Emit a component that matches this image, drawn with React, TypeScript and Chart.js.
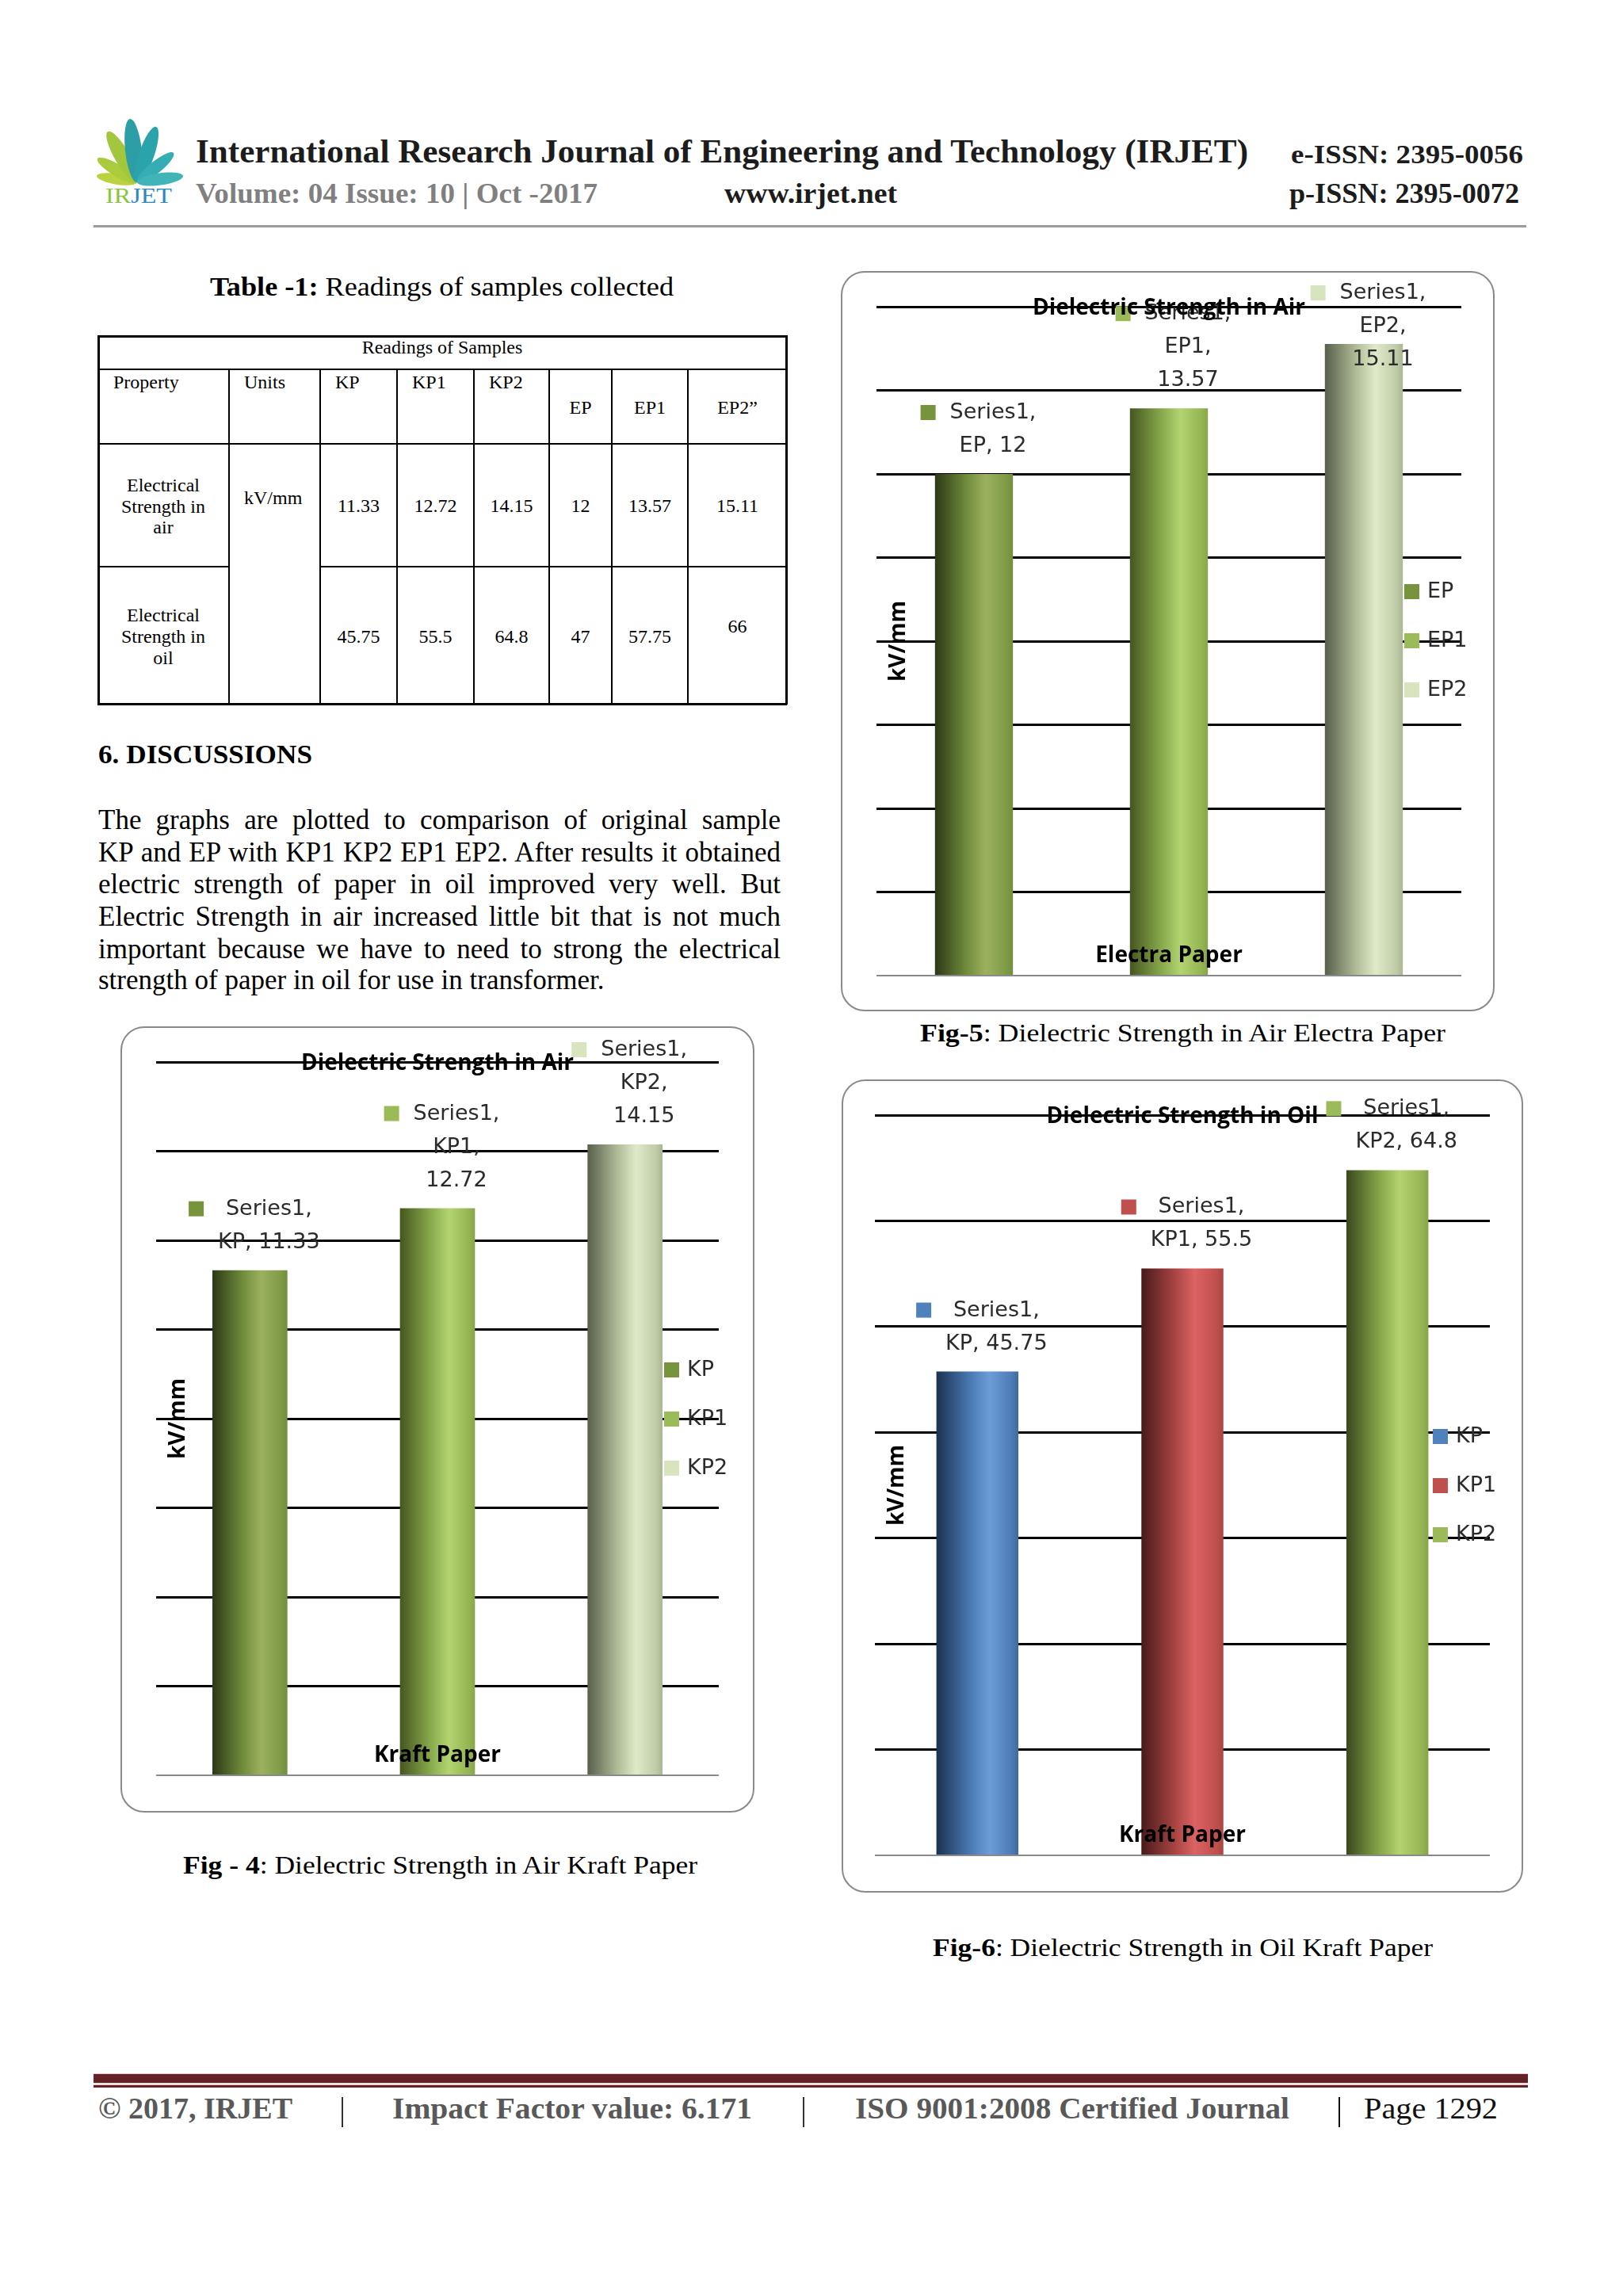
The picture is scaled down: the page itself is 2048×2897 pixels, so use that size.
import React, { useEffect, useLayoutEffect, useRef } from "react";
import { Chart, registerables } from "chart.js";
Chart.register(...registerables);

// ---------------- DATA ----------------
const seriesName = "Series1";
const tableColumns = ["KP", "KP1", "KP2", "EP", "EP1", "EP2\u201D"];
const airReadings = ["11.33", "12.72", "14.15", "12", "13.57", "15.11"];
const oilReadings = ["45.75", "55.5", "64.8", "47", "57.75", "66"];

const fig4Categories = ["KP", "KP1", "KP2"];
const fig4Values = [11.33, 12.72, 14.15];
const fig5Categories = ["EP", "EP1", "EP2"];
const fig5Values = [12, 13.57, 15.11];
const fig6Categories = ["KP", "KP1", "KP2"];
const fig6Values = [45.75, 55.5, 64.8];
const airAxis = [0, 16, 2]; // min, max, step
const oilAxis = [0, 70, 10];

const paragraphLines = [
  "The graphs are plotted to comparison of original sample",
  "KP and EP with KP1 KP2 EP1 EP2. After results it obtained",
  "electric strength of paper in oil improved very well. But",
  "Electric Strength in air increased little bit that is not much",
  "important because we have to need to strong the electrical",
  "strength of paper in oil for use in transformer.",
];

// ---------------- STYLES ----------------
const SERIF = '"Liberation Serif", "DejaVu Serif", serif';
const PAL = {
  olive: ["#2d3817", "#6f8b3b", "#9cb160", "#7f9a46", "#728d3e"],
  green: ["#46561f", "#87a84b", "#b3d470", "#95b453", "#88a648"],
  pale: ["#585f4c", "#b0bc98", "#dfeac8", "#bfcba7", "#aab692"],
  blue: ["#1c3150", "#4877b0", "#6d9dd8", "#4c7bb5", "#41699c"],
  red: ["#471a1a", "#a64342", "#dc6363", "#bf4f4c", "#a84644"],
  green2: ["#3a481d", "#86a549", "#b4d26f", "#97b454", "#86a34a"],
};
const STOPS = [0, 0.4, 0.65, 0.92, 1];

type Cfg = {
  categories: string[];
  values: number[];
  axis: number[];
  title: string;
  xTitle: string;
  yTitle: string;
  keyColors: string[];
  gradients: string[][];
  split: boolean[];
  left: number;
  top: number;
  width: number;
  height: number;
  pad: { left: number; right: number; top: number; bottom: number };
};

function BarChart({ cfg }: { cfg: Cfg }) {
  const ref = useRef<HTMLCanvasElement>(null);
  useEffect(() => {
    const canvas = ref.current!;
    const barPct = 0.4;
    const overlay = {
      id: "overlay",
      afterDatasetsDraw(chart: any) {
        const ctx = chart.ctx as CanvasRenderingContext2D;
        const a = chart.chartArea;
        const meta = chart.getDatasetMeta(0);
        ctx.save();
        // data labels
        ctx.font = '27px "DejaVu Sans"';
        ctx.textAlign = "center";
        ctx.textBaseline = "middle";
        const lh = 42;
        cfg.categories.forEach((cat, i) => {
          const el = meta.data[i];
          const v = String(cfg.values[i]);
          const lines = cfg.split[i]
            ? [seriesName + ",", cat + ",", v]
            : [seriesName + ",", cat + ", " + v];
          const last = el.y - 35;
          let first = last - (lines.length - 1) * lh;
          if (first < 28) first = 28;
          const cx = el.x + 24;
          const maxW = Math.max(...lines.map((l) => ctx.measureText(l).width));
          const blockLeft = cx - maxW / 2;
          ctx.fillStyle = cfg.keyColors[i];
          ctx.fillRect(blockLeft - 18 - 19, first - 10, 19, 19);
          ctx.fillStyle = "#2b2b2b";
          lines.forEach((l, k) => ctx.fillText(l, cx, first + k * lh));
        });
        // legend
        cfg.categories.forEach((cat, i) => {
          const y = chart.height / 2 + (i - 1) * 62;
          const x = chart.width - 114;
          ctx.fillStyle = cfg.keyColors[i];
          ctx.fillRect(x, y - 10, 19, 19);
          ctx.fillStyle = "#2b2b2b";
          ctx.textAlign = "left";
          ctx.fillText(cat, x + 29, y);
        });
        // titles
        ctx.fillStyle = "#000";
        ctx.textAlign = "center";
        ctx.font = 'bold 28px "Open Sans"';
        ctx.fillText(cfg.title, (a.left + a.right) / 2, a.top + 2);
        ctx.font = 'bold 28px "Open Sans"';
        ctx.fillText(cfg.xTitle, (a.left + a.right) / 2, a.bottom - 25);
        ctx.translate(a.left + 28, (a.top + a.bottom) / 2);
        ctx.rotate(-Math.PI / 2);
        ctx.fillText(cfg.yTitle, 0, 0);
        ctx.restore();
      },
    };
    const chart = new Chart(canvas, {
      type: "bar",
      data: {
        labels: cfg.categories,
        datasets: [
          {
            label: seriesName,
            data: cfg.values,
            borderWidth: 0,
            barPercentage: barPct,
            categoryPercentage: 1,
            backgroundColor: (c: any) => {
              const ch = c.chart;
              const area = ch.chartArea;
              const pal = cfg.gradients[c.dataIndex] || cfg.gradients[0];
              if (!area || c.dataIndex === undefined) return pal[2];
              const cw = (area.right - area.left) / cfg.categories.length;
              const bw = cw * barPct;
              const cx = ch.scales.x.getPixelForValue(c.dataIndex);
              const g = ch.ctx.createLinearGradient(cx - bw / 2, 0, cx + bw / 2, 0);
              STOPS.forEach((s, k) => g.addColorStop(s, pal[k]));
              return g;
            },
          },
        ],
      },
      options: {
        responsive: false,
        animation: false,
        devicePixelRatio: 1,
        layout: { padding: cfg.pad },
        plugins: {
          legend: { display: false },
          title: { display: false },
          tooltip: { enabled: false },
        },
        scales: {
          x: { display: false },
          y: {
            min: cfg.axis[0],
            max: cfg.axis[1],
            ticks: { display: false, stepSize: cfg.axis[2] },
            border: { display: false },
            grid: {
              drawTicks: false,
              color: (c: any) => (c.tick && c.tick.value === 0 ? "#8a8a8a" : "#000"),
              lineWidth: (c: any) => (c.tick && c.tick.value === 0 ? 2 : 3),
            },
          },
        },
      },
      plugins: [overlay],
    } as any);
    const f = (document as any).fonts;
    if (f && f.ready) {
      f.ready.then(() => {
        try {
          chart.draw();
        } catch (e) {}
      });
    }
    return () => chart.destroy();
  }, []);
  return (
    <div style={{ position: "absolute", left: cfg.left, top: cfg.top, width: cfg.width, height: cfg.height }}>
      <canvas
        ref={ref}
        width={cfg.width}
        height={cfg.height}
        style={{ position: "absolute", left: 0, top: 0, width: cfg.width, height: cfg.height }}
      />
      <div
        style={{
          position: "absolute",
          left: 0,
          top: 0,
          width: cfg.width,
          height: cfg.height,
          border: "2px solid #8a8a8a",
          borderRadius: 30,
          boxSizing: "border-box",
          pointerEvents: "none",
        }}
      />
    </div>
  );
}

// Single-line text fitted to a target width (horizontal scale)
function Fit(props: {
  x: number;
  cy: number;
  w?: number;
  size: number;
  weight?: any;
  color?: string;
  family?: string;
  children: any;
}) {
  const ref = useRef<HTMLDivElement>(null);
  useLayoutEffect(() => {
    const el = ref.current;
    if (!el) return;
    const measure = () => {
      el.style.transform = "none";
      const nat = el.getBoundingClientRect().width;
      if (props.w && nat > 0) el.style.transform = `scaleX(${props.w / nat})`;
    };
    measure();
    const f = (document as any).fonts;
    if (f && f.ready) f.ready.then(measure);
  }, []);
  return (
    <div
      ref={ref}
      style={{
        position: "absolute",
        left: props.x,
        top: props.cy - props.size * 0.6,
        fontSize: props.size,
        lineHeight: `${props.size * 1.2}px`,
        fontWeight: props.weight || "normal",
        color: props.color || "#000",
        fontFamily: props.family || SERIF,
        whiteSpace: "nowrap",
        transformOrigin: "left center",
      }}
    >
      {props.children}
    </div>
  );
}

// Justified paragraph line: word spacing set from measured width
function JLine({ text, cy, x, w, size, justify }: { text: string; cy: number; x: number; w: number; size: number; justify: boolean }) {
  const ref = useRef<HTMLDivElement>(null);
  useLayoutEffect(() => {
    const el = ref.current;
    if (!el) return;
    const measure = () => {
      el.style.wordSpacing = "0px";
      const nat = el.getBoundingClientRect().width;
      const gaps = text.split(" ").length - 1;
      if (justify && gaps > 0) el.style.wordSpacing = `${(w - nat) / gaps}px`;
    };
    measure();
    const f = (document as any).fonts;
    if (f && f.ready) f.ready.then(measure);
  }, []);
  return (
    <div
      ref={ref}
      style={{
        position: "absolute",
        left: x,
        top: cy - size * 0.6,
        fontSize: size,
        lineHeight: `${size * 1.2}px`,
        fontFamily: SERIF,
        color: "#000",
        whiteSpace: "nowrap",
      }}
    >
      {text}
    </div>
  );
}

function CText({ cx, cy, size, children, left }: { cx?: number; cy: number; size: number; children: any; left?: number }) {
  const style: any = {
    position: "absolute",
    top: cy - size * 0.6,
    fontSize: size,
    lineHeight: `${size * 1.2}px`,
    fontFamily: SERIF,
    whiteSpace: "nowrap",
    color: "#000",
  };
  if (left !== undefined) style.left = left;
  else {
    style.left = cx! - 200;
    style.width = 400;
    style.textAlign = "center";
  }
  return <div style={style}>{children}</div>;
}

function Line({ x, y, w, h, c }: { x: number; y: number; w: number; h: number; c?: string }) {
  return <div style={{ position: "absolute", left: x, top: y, width: w, height: h, background: c || "#000" }} />;
}

function Logo() {
  const base = [173, 230];
  const leaves: [number, number, string][] = [
    [122, 222, "#b9d23e"],
    [123, 200, "#a9cb3c"],
    [136, 166, "#a2c63d"],
    [164, 150, "#2e9ea6"],
    [197, 160, "#2aa3aa"],
    [219, 193, "#35adb2"],
    [231, 222, "#41b4b8"],
  ];
  return (
    <svg style={{ position: "absolute", left: 0, top: 0 }} width={300} height={300}>
      {leaves.map(([tx, ty, col], i) => {
        const dx = tx - base[0];
        const dy = ty - base[1];
        const len = Math.sqrt(dx * dx + dy * dy);
        const ang = (Math.atan2(dy, dx) * 180) / Math.PI;
        const mx = (tx + base[0]) / 2;
        const my = (ty + base[1]) / 2;
        return (
          <ellipse
            key={i}
            cx={mx}
            cy={my}
            rx={len / 2}
            ry={len * 0.13}
            fill={col}
            transform={`rotate(${ang} ${mx} ${my})`}
          />
        );
      })}
    </svg>
  );
}

const fig4: Cfg = {
  categories: fig4Categories,
  values: fig4Values,
  axis: airAxis,
  title: "Dielectric Strength in Air",
  xTitle: "Kraft Paper",
  yTitle: "kV/mm",
  keyColors: ["#77933C", "#9BBB59", "#D7E4BD"],
  gradients: [PAL.olive, PAL.green, PAL.pale],
  split: [false, true, true],
  left: 152,
  top: 1295,
  width: 800,
  height: 992,
  pad: { left: 45, right: 45, top: 45, bottom: 47 },
};
const fig5: Cfg = {
  categories: fig5Categories,
  values: fig5Values,
  axis: airAxis,
  title: "Dielectric Strength in Air",
  xTitle: "Electra Paper",
  yTitle: "kV/mm",
  keyColors: ["#77933C", "#9BBB59", "#D7E4BD"],
  gradients: [PAL.olive, PAL.green, PAL.pale],
  split: [false, true, true],
  left: 1061,
  top: 342,
  width: 825,
  height: 934,
  pad: { left: 45, right: 42, top: 45, bottom: 45 },
};
const fig6: Cfg = {
  categories: fig6Categories,
  values: fig6Values,
  axis: oilAxis,
  title: "Dielectric Strength in Oil",
  xTitle: "Kraft Paper",
  yTitle: "kV/mm",
  keyColors: ["#4F81BD", "#C0504D", "#9BBB59"],
  gradients: [PAL.blue, PAL.red, PAL.green2],
  split: [false, false, false],
  left: 1062,
  top: 1362,
  width: 860,
  height: 1026,
  pad: { left: 42, right: 42, top: 45, bottom: 47 },
};

function Table() {
  const L = 123, R = 993, T = 423, B = 889;
  const vx = [289, 404, 501, 598, 693, 772, 868];
  const colCenters = [452.5, 549.5, 645.5, 732.5, 820, 930.5];
  const fs = 24;
  return (
    <>
      <Line x={L} y={T} w={R - L} h={2.5} />
      <Line x={L} y={B - 2} w={R - L} h={2.5} />
      <Line x={L} y={T} w={2.5} h={B - T} />
      <Line x={R - 2} y={T} w={2.5} h={B - T} />
      <Line x={L} y={465} w={R - L} h={2} />
      <Line x={L} y={559} w={R - L} h={2} />
      <Line x={L} y={714} w={289 - L} h={2} />
      <Line x={404} y={714} w={R - 404} h={2} />
      {vx.map((x, i) => (
        <Line key={i} x={x - 1} y={465} w={2} h={B - 465} />
      ))}
      <CText cx={558} cy={438} size={fs}>Readings of Samples</CText>
      <CText left={143} cy={482} size={fs}>Property</CText>
      <CText left={308} cy={482} size={fs}>Units</CText>
      {tableColumns.map((c, i) =>
        i < 3 ? (
          <CText key={c} left={[423, 520, 617][i]} cy={482} size={fs}>{c}</CText>
        ) : (
          <CText key={c} cx={colCenters[i]} cy={514} size={fs}>{c}</CText>
        )
      )}
      <CText cx={206} cy={612} size={fs}>Electrical</CText>
      <CText cx={206} cy={639} size={fs}>Strength in</CText>
      <CText cx={206} cy={665} size={fs}>air</CText>
      <CText left={308} cy={628} size={fs}>kV/mm</CText>
      {airReadings.map((v, i) => (
        <CText key={"a" + i} cx={colCenters[i]} cy={638} size={fs}>{v}</CText>
      ))}
      <CText cx={206} cy={776} size={fs}>Electrical</CText>
      <CText cx={206} cy={803} size={fs}>Strength in</CText>
      <CText cx={206} cy={830} size={fs}>oil</CText>
      {oilReadings.map((v, i) => (
        <CText key={"o" + i} cx={colCenters[i]} cy={i === 5 ? 790 : 803} size={fs}>{v}</CText>
      ))}
    </>
  );
}

function Paragraph() {
  const ys = [1035, 1076, 1116, 1157, 1198, 1237];
  return (
    <>
      {paragraphLines.map((line, i) => (
        <JLine
          key={i}
          text={line}
          cy={ys[i]}
          x={124}
          w={861}
          size={35}
          justify={i < paragraphLines.length - 1}
        />
      ))}
    </>
  );
}

export default function App() {
  return (
    <div
      style={{
        position: "absolute",
        left: 0,
        top: 0,
        width: 2048,
        height: 2897,
        background: "#fff",
        overflow: "hidden",
        fontFamily: SERIF,
      }}
    >
      {/* Header */}
      <Logo />
      <Fit x={133} cy={247} w={84} size={27}>
        <span style={{ color: "#8cc43f" }}>IR</span>
        <span style={{ color: "#2f86c4" }}>JET</span>
      </Fit>
      <Fit x={247} cy={191} w={1328} size={42} weight="bold" color="#1c1c1c">
        International Research Journal of Engineering and Technology (IRJET)
      </Fit>
      <Fit x={1629} cy={195} w={293} size={34} weight="bold" color="#1c1c1c">
        e-ISSN: 2395-0056
      </Fit>
      <Fit x={247} cy={245} w={507} size={35} weight="bold" color="#808080">
        Volume: 04 Issue: 10 | Oct -2017
      </Fit>
      <Fit x={914} cy={245} w={218} size={35} weight="bold" color="#1c1c1c">
        www.irjet.net
      </Fit>
      <Fit x={1627} cy={245} w={290} size={35} weight="bold" color="#1c1c1c">
        p-ISSN: 2395-0072
      </Fit>
      <Line x={118} y={284} w={1808} h={2.5} c="#9c9c9c" />

      {/* Table */}
      <Fit x={265} cy={363} w={585} size={33}>
        <b>Table -1:</b> Readings of samples collected
      </Fit>
      <Table />

      {/* Discussion */}
      <Fit x={124} cy={952} w={270} size={34} weight="bold">
        6. DISCUSSIONS
      </Fit>
      <Paragraph />

      {/* Charts */}
      <BarChart cfg={fig4} />
      <BarChart cfg={fig5} />
      <BarChart cfg={fig6} />

      <Fit x={231} cy={2353} w={649} size={32}>
        <b>Fig - 4</b>: Dielectric Strength in Air Kraft Paper
      </Fit>
      <Fit x={1161} cy={1303} w={663} size={32}>
        <b>Fig-5</b>: Dielectric Strength in Air Electra Paper
      </Fit>
      <Fit x={1177} cy={2457} w={631} size={32}>
        <b>Fig-6</b>: Dielectric Strength in Oil Kraft Paper
      </Fit>

      {/* Footer */}
      <Line x={118} y={2616} w={1810} h={13} c="#f0c8c8" />
      <Line x={118} y={2617} w={1810} h={11} c="#652226" />
      <Line x={118} y={2630} w={1810} h={4} c="#f0c8c8" />
      <Line x={118} y={2631} w={1810} h={2.5} c="#652226" />
      <Fit x={124} cy={2661} w={245} size={38} weight="bold" color="#595959">
        © 2017, IRJET
      </Fit>
      <Line x={431} y={2646} w={2} h={38} c="#333" />
      <Fit x={495} cy={2661} w={454} size={38} weight="bold" color="#595959">
        Impact Factor value: 6.171
      </Fit>
      <Line x={1013} y={2646} w={2} h={38} c="#333" />
      <Fit x={1079} cy={2661} w={548} size={38} weight="bold" color="#595959">
        ISO 9001:2008 Certified Journal
      </Fit>
      <Line x={1689} y={2646} w={2} h={38} c="#111" />
      <Fit x={1721} cy={2661} w={169} size={38} color="#111">
        Page 1292
      </Fit>
    </div>
  );
}
